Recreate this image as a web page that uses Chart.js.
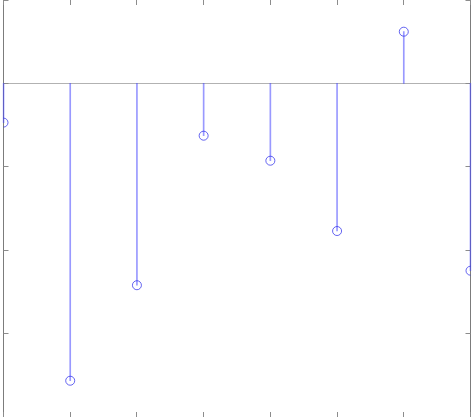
<!DOCTYPE html>
<html>
<head>
<meta charset="utf-8">
<script src="https://cdn.jsdelivr.net/npm/chart.js@4/dist/chart.umd.min.js"></script>
<style>
html,body{margin:0;padding:0;background:#fff;}
#wrap{width:474px;height:417px;position:relative;}
</style>
</head>
<body>
<div id="wrap"><canvas id="c"></canvas></div>
<script>
// Data
const xValues = [0, 1, 2, 3, 4, 5, 6, 7];
const yValues = [-0.47, -3.565, -2.42, -0.627, -0.927, -1.77, 0.62, -2.246];
const xTickValues = [0, 1, 2, 3, 4, 5, 6, 7];
const yTickValues = [-4, -3, -2, -1, 0, 1];

const stemData = xValues.map((x, i) => ({x: x, y: yValues[i]}));
const markerData = xValues.map((x, i) => ({x: x, y: yValues[i]}));

const axesPlugin = {
  id: 'matlabAxes',
  beforeDatasetsDraw(chart) {
    const {ctx, chartArea, scales} = chart;
    const {left, right, top, bottom} = chartArea;
    const xs = scales.x, ys = scales.y;
    ctx.save();
    ctx.lineWidth = 1;
    const lx = Math.floor(left) + 0.5, rx = Math.floor(right) + 0.5;
    // zero baseline
    const y0 = Math.round(ys.getPixelForValue(0)) + 0.5;
    ctx.strokeStyle = '#b2b2b2';
    ctx.beginPath();
    ctx.moveTo(lx, y0); ctx.lineTo(rx, y0);
    ctx.stroke();
    // left and right axis lines
    ctx.strokeStyle = '#7c7c7c';
    ctx.beginPath();
    ctx.moveTo(lx, top); ctx.lineTo(lx, bottom);
    ctx.moveTo(rx, top); ctx.lineTo(rx, bottom);
    ctx.stroke();
    // ticks
    ctx.strokeStyle = '#8c8c8c';
    const tl = 5;
    ctx.beginPath();
    xTickValues.forEach(v => {
      const px = Math.floor(xs.getPixelForValue(v)) + 0.5;
      ctx.moveTo(px, top); ctx.lineTo(px, top + tl);
      ctx.moveTo(px, bottom); ctx.lineTo(px, bottom - tl);
    });
    yTickValues.forEach(v => {
      const py = Math.floor(ys.getPixelForValue(v)) + 0.5;
      ctx.moveTo(lx, py); ctx.lineTo(lx + tl, py);
      ctx.moveTo(rx, py); ctx.lineTo(rx - tl, py);
    });
    ctx.stroke();
    ctx.restore();
  }
};

new Chart(document.getElementById('c'), {
  type: 'bar',
  data: {
    datasets: [
      {
        type: 'scatter',
        data: markerData,
        pointStyle: 'circle',
        pointRadius: 4.5,
        pointHoverRadius: 4.5,
        borderColor: 'rgba(50,50,235,0.75)',
        backgroundColor: 'rgba(0,0,0,0)',
        pointBorderWidth: 1,
        clip: 0,
        order: 0
      },
      {
        type: 'bar',
        data: stemData,
        backgroundColor: 'rgba(70,70,255,0.55)',
        borderWidth: 0,
        barThickness: 1,
        clip: {left: 1, right: 1, top: 0, bottom: 0},
        order: 1
      }
    ]
  },
  options: {
    responsive: true,
    maintainAspectRatio: false,
    devicePixelRatio: 1,
    animation: false,
    events: [],
    layout: {autoPadding: false, padding: {left: 3.5, right: 3.5, top: 0, bottom: 0}},
    plugins: {legend: {display: false}, tooltip: {enabled: false}},
    scales: {
      x: {type: 'linear', min: 0, max: 7, display: false, offset: false},
      y: {type: 'linear', min: -4, max: 1, display: false}
    }
  },
  plugins: [axesPlugin]
});
</script>
</body>
</html>
